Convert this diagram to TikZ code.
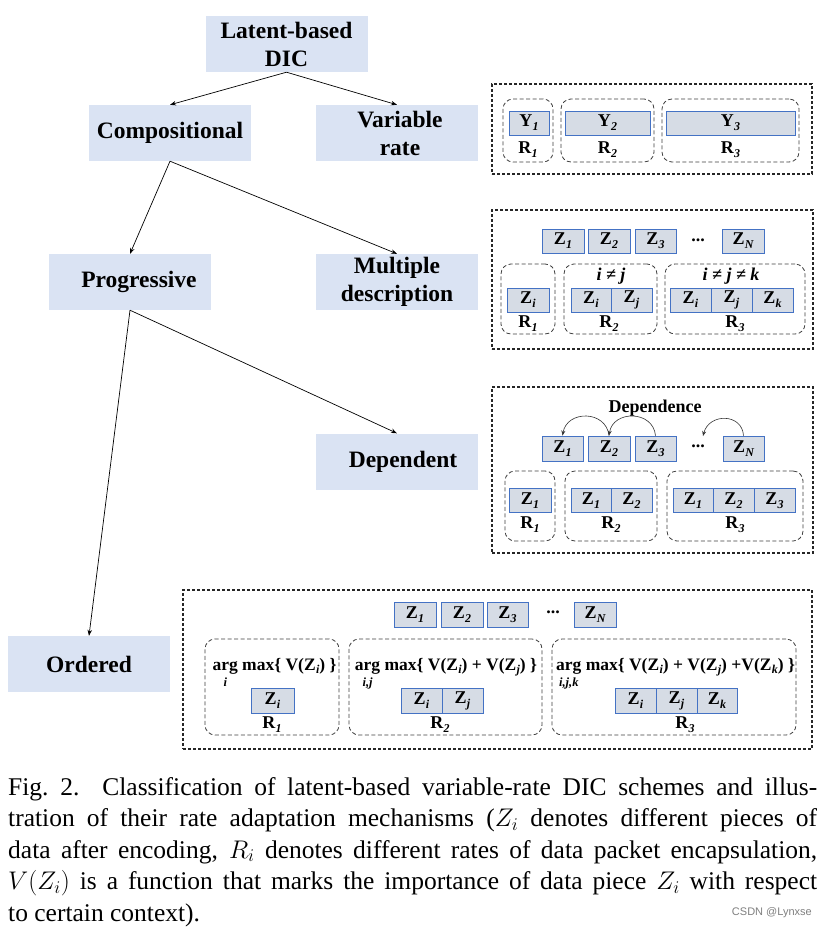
\RequirePackage{fix-cm}
\documentclass[tikz,border=0pt]{standalone}
\usepackage{fontspec}
\setmainfont{Liberation Serif}[UprightFont={Liberation Serif}, BoldFont={Liberation Serif Bold}, ItalicFont={Liberation Serif Italic}, BoldItalicFont={Liberation Serif Bold Italic}]
\newfontfamily\bsf{Liberation Serif Bold}
\newfontfamily\bisf{Liberation Serif Bold Italic}
\newfontfamily\wmfont{Liberation Sans}
\usetikzlibrary{arrows.meta}
\definecolor{catblue}{HTML}{DAE3F3}
\definecolor{zfill}{HTML}{D6DCE5}
\definecolor{zline}{HTML}{4472C4}
\definecolor{grpline}{HTML}{404040}
\newcommand\catf{\fontsize{23.5}{28}\selectfont\bsf}
\newcommand\zfnt{\fontsize{18}{20}\selectfont\bsf}
\newcommand\zifnt{\fontsize{18}{20}\selectfont\bisf}
\newcommand\argfnt{\fontsize{17.5}{20}\selectfont\bsf}
\newcommand\zs[2]{#1\kern0.3pt\raisebox{-0.22em}{\fontsize{12}{12}\selectfont\bisf #2}}
\newcommand\argsub[1]{\makebox[0pt][l]{\makebox[1.45em]{\raisebox{-0.95em}{\fontsize{12.5}{12}\selectfont\bisf #1}}}arg}
\tikzset{
 cat/.style={fill=catblue, minimum width=162pt, minimum height=56pt, inner sep=0pt, align=center, font=\catf},
 zb/.style={draw=zline, fill=zfill, line width=0.9pt, minimum height=24pt, inner sep=0pt, font=\zfnt},
 grp/.style={draw=grpline, dash pattern=on 4pt off 2.5pt, line width=0.8pt, rounded corners=10pt, inner sep=0pt},
 outerbox/.style={draw=black!85, dash pattern=on 3pt off 2pt, line width=1.1pt, inner sep=0pt},
 lbl/.style={font=\zfnt, inner sep=0pt},
 arglbl/.style={font=\argfnt, inner sep=0pt, anchor=base},
 arr/.style={-{Stealth[length=6pt,width=4.5pt]}, line width=0.7pt},
 carr/.style={-{Stealth[length=5pt,width=4pt]}, line width=0.6pt, draw=black!80},
}
\begin{document}
\begin{tikzpicture}[x=1pt,y=-1pt]
\fill[white] (0,0) rectangle (825,929);
\useasboundingbox (0,0) rectangle (825,929);

% category nodes
\node[cat] (latent) at (286.5,44) {Latent-based\\DIC};
\node[cat] (comp) at (170,133) {Compositional};
\node[cat] (var) at (397,133) {\hspace*{6pt}Variable\\\hspace*{6pt}rate};
\node[cat] (prog) at (130,282) {\hspace*{18pt}Progressive};
\node[cat] (multi) at (397,282) {Multiple\\description};
\node[cat] (dep) at (397,461.5) {\hspace*{12pt}Dependent};
\node[cat] (ord) at (89,664) {Ordered};

\draw[arr] (latent.south) -- (comp.north);
\draw[arr] (latent.south) -- (var.north);
\draw[arr] (comp.south) -- (prog.north);
\draw[arr] (comp.south) -- (multi.north);
\draw[arr] (prog.south) -- (dep.north);
\draw[arr] (prog.south) -- (ord.north);

% ---- box 1: variable rate
\node[outerbox, minimum width=320pt, minimum height=90pt] (o1) at (652,129) {};
\node[grp, minimum width=50pt, minimum height=63pt] (a1) at (528,130.5) {};
\node[grp, minimum width=93pt, minimum height=63pt] (a2) at (607.5,130.5) {};
\node[grp, minimum width=137pt, minimum height=63pt] (a3) at (730.5,130.5) {};
\node[zb, minimum width=40pt] (y1) at (529,123) {\zs{Y}{1}};
\node[zb, minimum width=85pt] (y2) at (607.5,123) {\zs{Y}{2}};
\node[zb, minimum width=129pt] (y3) at (730.5,123) {\zs{Y}{3}};
\node[lbl] (ar1) at (528,150) {\zs{R}{1}};
\node[lbl] (ar2) at (607.5,150) {\zs{R}{2}};
\node[lbl] (ar3) at (730.5,150) {\zs{R}{3}};

% ---- box 2: multiple description
\node[outerbox, minimum width=321pt, minimum height=139pt] (o2) at (652.5,279.5) {};
\node[zb, minimum width=42pt] (m1) at (563,241) {\zs{Z}{1}};
\node[zb, minimum width=42pt] (m2) at (609,241) {\zs{Z}{2}};
\node[zb, minimum width=41pt] (m3) at (655.5,241) {\zs{Z}{3}};
\node[lbl] (mdots) at (698,240) {...};
\node[zb, minimum width=42pt] (mn) at (743,241) {\zs{Z}{N}};
\node[grp, minimum width=54pt, minimum height=70pt] (b1) at (528,299) {};
\node[grp, minimum width=93pt, minimum height=70pt] (b2) at (610.5,299) {};
\node[grp, minimum width=140pt, minimum height=70pt] (b3) at (735,299) {};
\node[zb, minimum width=42pt] (mi1) at (528,300) {\zs{Z}{i}};
\node[zb, minimum width=40pt] (mi2) at (591,300) {\zs{Z}{i}};
\node[zb, minimum width=41pt] (mj2) at (631.5,300) {\zs{Z}{j}};
\node[zb, minimum width=41pt] (mi3) at (690.5,300) {\zs{Z}{i}};
\node[zb, minimum width=41pt] (mj3) at (731.5,300) {\zs{Z}{j}};
\node[zb, minimum width=41pt] (mk3) at (772.5,300) {\zs{Z}{k}};
\node[lbl, font=\zifnt] (ne2) at (611,276) {i ≠ j};
\node[lbl, font=\zifnt] (ne3) at (731,276) {i ≠ j ≠ k};
\node[lbl] (br1) at (528,324) {\zs{R}{1}};
\node[lbl] (br2) at (609,324) {\zs{R}{2}};
\node[lbl] (br3) at (735,324) {\zs{R}{3}};

% ---- box 3: dependent
\node[outerbox, minimum width=321pt, minimum height=166pt] (o3) at (652.5,470) {};
\node[lbl] (deptxt) at (655,408) {Dependence};
\node[zb, minimum width=41pt, minimum height=25pt] (d1) at (562.5,448.5) {\zs{Z}{1}};
\node[zb, minimum width=42pt, minimum height=25pt] (d2) at (609,448.5) {\zs{Z}{2}};
\node[zb, minimum width=41pt, minimum height=25pt] (d3) at (655.5,448.5) {\zs{Z}{3}};
\node[lbl] (ddots) at (698,446) {...};
\node[zb, minimum width=41pt, minimum height=25pt] (dn2) at (743.5,448.5) {\zs{Z}{N}};
\coordinate (dn) at (703,436);
\draw[carr] (d2.north) .. controls (606,410) and (567,410) .. (d1.north);
\draw[carr] (d3.north) .. controls (653,410) and (613,410) .. (d2.north);
\draw[carr] (dn2.north) .. controls (742,413) and (709,413) .. (dn);
\node[grp, minimum width=50pt, minimum height=70pt] (c1) at (530,506) {};
\node[grp, minimum width=92pt, minimum height=70pt] (c2) at (611,506) {};
\node[grp, minimum width=136pt, minimum height=70pt] (c3) at (735,506) {};
\node[zb, minimum width=42pt] (e11) at (530,500.5) {\zs{Z}{1}};
\node[zb, minimum width=40pt] (e21) at (591,500.5) {\zs{Z}{1}};
\node[zb, minimum width=41pt] (e22) at (631.5,500.5) {\zs{Z}{2}};
\node[zb, minimum width=40pt] (e31) at (693,500.5) {\zs{Z}{1}};
\node[zb, minimum width=41pt] (e32) at (733.5,500.5) {\zs{Z}{2}};
\node[zb, minimum width=41pt] (e33) at (774.5,500.5) {\zs{Z}{3}};
\node[lbl] (cr1) at (530,525) {\zs{R}{1}};
\node[lbl] (cr2) at (611,525) {\zs{R}{2}};
\node[lbl] (cr3) at (735,525) {\zs{R}{3}};

% ---- box 4: ordered
\node[outerbox, minimum width=629pt, minimum height=159pt] (o4) at (497.5,669.5) {};
\node[zb, minimum width=42pt, minimum height=25pt] (q1) at (415,614.5) {\zs{Z}{1}};
\node[zb, minimum width=42pt, minimum height=25pt] (q2) at (462,614.5) {\zs{Z}{2}};
\node[zb, minimum width=41pt, minimum height=25pt] (q3) at (507.5,614.5) {\zs{Z}{3}};
\node[lbl] (qdots) at (553,612) {...};
\node[zb, minimum width=42pt, minimum height=25pt] (qn) at (595,614.5) {\zs{Z}{N}};
\node[grp, minimum width=134pt, minimum height=96pt] (f1) at (272,687) {};
\node[grp, minimum width=193pt, minimum height=96pt] (f2) at (445.5,687) {};
\node[grp, minimum width=244pt, minimum height=96pt] (f3) at (674,687) {};
\node[arglbl] (t1) at (274.5,670) {\argsub{i} max\{ V(\zs{Z}{i}) \}};
\node[arglbl] (t2) at (446,670) {\argsub{i,j} max\{ V(\zs{Z}{i}) + V(\zs{Z}{j}) \}};
\node[arglbl] (t3) at (675.5,670) {\argsub{i,j,k} max\{ V(\zs{Z}{i}) + V(\zs{Z}{j}) +V(\zs{Z}{k}) \}};
\node[zb, minimum width=43pt, minimum height=25pt] (h11) at (272.5,700.5) {\zs{Z}{i}};
\node[zb, minimum width=41pt, minimum height=25pt] (h21) at (421.5,700.5) {\zs{Z}{i}};
\node[zb, minimum width=41pt, minimum height=25pt] (h22) at (462.5,700.5) {\zs{Z}{j}};
\node[zb, minimum width=41pt, minimum height=25pt] (h31) at (635.5,700.5) {\zs{Z}{i}};
\node[zb, minimum width=41pt, minimum height=25pt] (h32) at (676.5,700.5) {\zs{Z}{j}};
\node[zb, minimum width=40pt, minimum height=25pt] (h33) at (717,700.5) {\zs{Z}{k}};
\node[lbl] (fr1) at (272,725) {\zs{R}{1}};
\node[lbl] (fr2) at (440,725) {\zs{R}{2}};
\node[lbl] (fr3) at (685,725) {\zs{R}{3}};

% ---- caption
\node[anchor=base west, inner sep=0pt] (cap) at (8,795) {\parbox[t]{809pt}{\fontsize{25.5}{31.5}\selectfont\tolerance=10000\hyphenpenalty=10000
Fig.~2.\hspace{0.9em}Classification of latent-based variable-rate DIC schemes and illus-\linebreak tration of their rate adaptation mechanisms ($Z_i$ denotes different pieces of\linebreak data after encoding, $R_i$ denotes different rates of data packet encapsulation,\linebreak $V(Z_i)$ is a function that marks the importance of data piece $Z_i$ with respect\linebreak to certain context).}};
\node[anchor=east, inner sep=0pt, font=\wmfont\fontsize{11}{11}\selectfont, text=gray] (wm) at (812,913) {CSDN @Lynxse};
\end{tikzpicture}
\end{document}
